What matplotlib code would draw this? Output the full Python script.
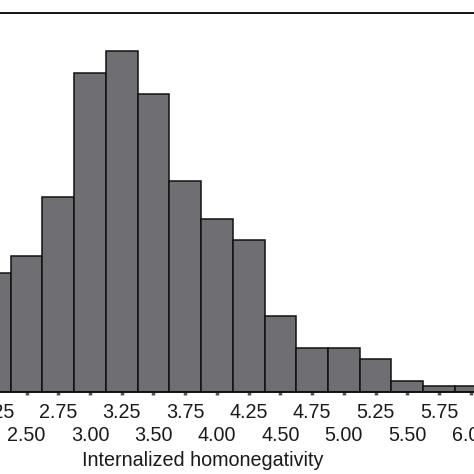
import numpy as np
import matplotlib
matplotlib.use('Agg')
import matplotlib.pyplot as plt

plt.rcParams['font.family'] = ['Liberation Sans', 'DejaVu Sans']

# bin centres (internalized homonegativity score) and counts
bin_centers = [2.25, 2.50, 2.75, 3.00, 3.25, 3.50, 3.75, 4.00,
               4.25, 4.50, 4.75, 5.00, 5.25, 5.50, 5.75, 6.00]
counts = [22, 25, 36, 59, 63, 55, 39, 32, 28, 14, 8, 8, 6, 2, 1, 1]
upper_ticks = bin_centers[0::2]
lower_ticks = bin_centers[1::2]
xlabel = 'Internalized homonegativity'

W, H = 474, 474
fig = plt.figure(figsize=(W / 100, H / 100), dpi=100)

# axes deliberately wider than the figure: the original is a crop
x_lo, x_hi = 2.0, 6.125
px_per_unit = 126.9
left_px = 10.7 + (x_lo - 2.375) * px_per_unit
right_px = 10.7 + (x_hi - 2.375) * px_per_unit
top_px, base_px = 13.0, 391.7
ax = fig.add_axes([left_px / W, 1 - base_px / H,
                   (right_px - left_px) / W, (base_px - top_px) / H])

ax.bar(bin_centers, counts, width=0.25, color='#6f6f73',
       edgecolor='#111111', linewidth=1.1, zorder=2)

ax.set_xlim(x_lo, x_hi)
ax.set_ylim(0, 70)

fs = 14.2
ax.set_xticks(upper_ticks)
ax.set_xticklabels(['%.2f' % v for v in upper_ticks])
ax.set_xticks(lower_ticks, minor=True)
ax.set_xticklabels(['%.2f' % v for v in lower_ticks], minor=True)
ax.tick_params(axis='x', which='both', direction='out', length=2, width=2.5,
               color='#555555', labelsize=fs, labelcolor='#1a1a1a')
ax.tick_params(axis='x', which='major', pad=6)
ax.tick_params(axis='x', which='minor', pad=22.5)
ax.set_yticks([])

for s in ['top', 'bottom', 'left', 'right']:
    ax.spines[s].set_linewidth(1.4)
    ax.spines[s].set_color('#111111')

fig.text(203 / W, 1 - 460.5 / H, xlabel, ha='center', va='center',
         fontsize=fs, color='#1a1a1a')

fig.savefig('out.png', dpi=100)
